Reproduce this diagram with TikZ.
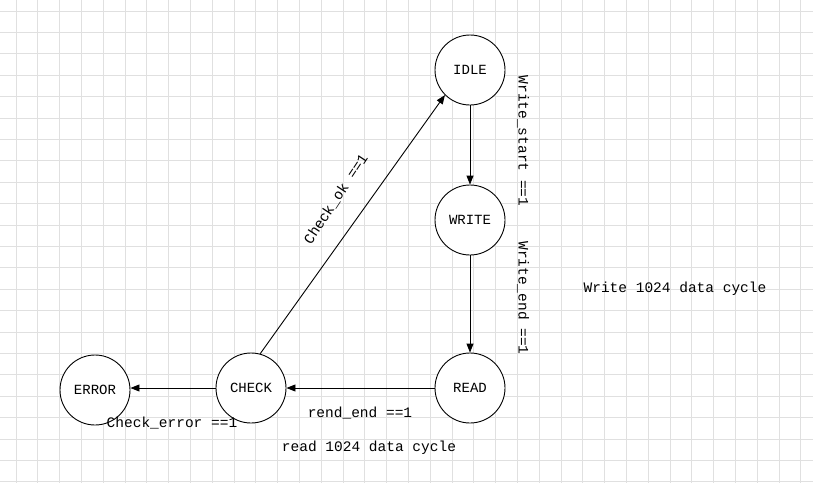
\documentclass[tikz,border=0pt]{standalone}
\usepackage{fontspec}
\setmainfont{Liberation Mono}
\usetikzlibrary{arrows.meta}
\begin{document}
\begin{tikzpicture}[x=1pt,y=-1pt,
  st/.style={circle,draw,line width=0.9pt,minimum size=70pt,inner sep=0pt,font=\fontsize{14}{16}\selectfont,fill=white},
  ar/.style={-{Triangle[length=9pt,width=7pt]},line width=0.9pt},
  lb/.style={font=\fontsize{14.5}{16}\selectfont,inner sep=1pt}]
\useasboundingbox (0,0) rectangle (813,483);
\fill[white] (0,0) rectangle (813,483);
\foreach \i in {0,...,37} {\draw[black!12,line width=0.8pt] (16+21.8*\i,0) -- (16+21.8*\i,483);}
\foreach \j in {0,...,22} {\draw[black!12,line width=0.8pt] (0,11+21.4*\j) -- (813,11+21.4*\j);}
\node[st] (idle) at (470,70) {IDLE};
\node[st] (write) at (470,220) {WRITE};
\node[st] (read) at (470,388) {READ};
\node[st] (check) at (251,388) {CHECK};
\node[st] (error) at (95,390) {ERROR};
\draw[ar] (idle) -- (write);
\draw[ar] (write) -- (read);
\draw[ar] (read) -- (check);
\draw[ar] (check.west) -- (error.east |- check.west);
\draw[ar] (check.75) -- (idle.225);
\node[lb,rotate=-90] (l1) at (523,141) {Write\_start ==1};
\node[lb,rotate=-90] (l2) at (523,298) {Write\_end ==1};
\node[lb,rotate=56.6] (l3) at (336,199) {Check\_ok ==1};
\node[lb] (l4) at (360,413) {rend\_end ==1};
\node[lb] (l5) at (172,423) {Check\_error ==1};
\node[lb] (l6) at (369,448) {read 1024 data cycle};
\node[lb] (l7) at (675,289) {Write 1024 data cycle};
\end{tikzpicture}
\end{document}
